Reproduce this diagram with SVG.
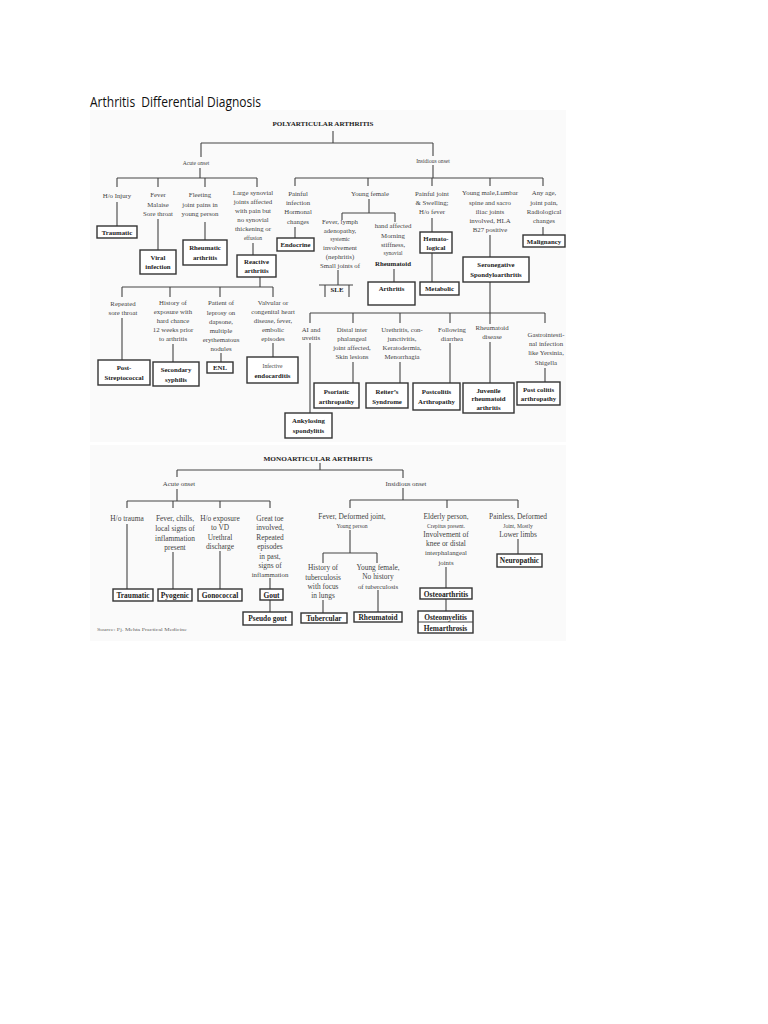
<svg xmlns="http://www.w3.org/2000/svg" width="768" height="1024" viewBox="0 0 768 1024">
<style>
.t{font-family:"Liberation Serif","Times New Roman",serif;font-size:6.8px;fill:#444;text-anchor:middle}
.s{font-size:5.6px}
.m{font-size:7.4px}
.b{font-weight:bold;fill:#222}
.h{font-family:"Liberation Serif","Times New Roman",serif;font-size:7px;font-weight:bold;fill:#222;text-anchor:middle}
.bx{fill:#fff;stroke:#333;stroke-width:1.4}
.ln{fill:none;stroke:#444;stroke-width:1.1}
</style>
<rect x="0" y="0" width="768" height="1024" fill="#fff"/>
<rect x="90" y="110" width="476" height="332" fill="#fafafa"/>
<rect x="90" y="445" width="476" height="196" fill="#fafafa"/>
<text x="90" y="107" font-family="Open Sans, Liberation Sans, sans-serif" font-size="14" fill="#111" textLength="171" lengthAdjust="spacingAndGlyphs" xml:space="preserve">Arthritis  Differential Diagnosis</text>

<g id="connectors" class="ln">
<path d="M333,131V143M201,143H433M201,143V157M433,143V156"/>
<path d="M200,168V178M117,178H257M117,178V187M158,178V187M205,178V187M257,178V187"/>
<path d="M117,202V226M158,219V250M205,222V240M253,243V255"/>
<path d="M260,277V287M122,287H273M122,287V297M170,287V297M220,287V297M273,287V297"/>
<path d="M122,318V360M173,344V362M221,353V362M273,343V357"/>
<path d="M433,165V178M295,178H543M295,178V186M368,178V186M432,178V186M490,178V186M543,178V186"/>
<path d="M295,227V238M369,199V213M342,213H395M342,213V220M395,213V222"/>
<path d="M338,270V285M394,269V282M432,218V232M432,253V282M490,235V257M543,227V235"/>
<path d="M490,282V324M310,313H545M310,313V323M353,313V323M400,313V323M450,313V323M545,313V323"/>
<path d="M310,343V413M353,362V383M400,362V383M450,343V383M490,342V383M545,368V382"/>
<path d="M320,463V470M177,470H403M177,470V477M403,470V478"/>
<path d="M177,489V501M127,501H270M127,501V508M173,501V508M220,501V508M270,501V508"/>
<path d="M127,524V589M173,552V589M220,551V589M270,578V589M270,600V612"/>
<path d="M403,488V500M350,500H518M350,500V508M447,500V508M518,500V508"/>
<path d="M350,530V553M323,553H377M323,553V563M377,553V563"/>
<path d="M323,600V613M378,590V612M446,567V588M446,599V611M518,539V554"/>
</g>

<g id="poly-root"><text class="h" x="323" y="126" textLength="101" lengthAdjust="spacingAndGlyphs">POLYARTICULAR ARTHRITIS</text></g>
<g id="poly-acute"><text class="t s" x="196" y="165">Acute onset</text></g>
<g id="poly-insidious"><text class="t s" x="433" y="163">Insidious onset</text></g>

<g id="p-injury"><text class="t" x="117" y="198">H/o Injury</text></g>
<g id="p-fever"><text class="t" x="158" y="197">Fever</text><text class="t" x="158" y="206.5">Malaise</text><text class="t" x="158" y="215.5">Sore throat</text></g>
<g id="p-fleeting"><text class="t" x="200" y="197">Fleeting</text><text class="t" x="200" y="206.5">joint pains in</text><text class="t" x="200" y="215.5">young person</text></g>
<g id="p-large"><text class="t" x="253" y="195">Large synovial</text><text class="t" x="253" y="204">joints affected</text><text class="t" x="253" y="213">with pain but</text><text class="t" x="253" y="222">no synovial</text><text class="t" x="253" y="231">thickening or</text><text class="t s" x="253" y="240">effusion</text></g>

<g id="p-traumatic"><rect class="bx" x="97" y="226" width="40" height="12"/><text class="t b" x="117" y="234.5">Traumatic</text></g>
<g id="p-viral"><rect class="bx" x="140" y="250" width="36" height="24"/><text class="t b" x="158" y="259.5">Viral</text><text class="t b" x="158" y="268.5">infection</text></g>
<g id="p-rheumatic"><rect class="bx" x="183" y="240" width="44" height="25"/><text class="t b" x="205" y="250">Rheumatic</text><text class="t b" x="205" y="259.5">arthritis</text></g>
<g id="p-reactive"><rect class="bx" x="237" y="255" width="39" height="22"/><text class="t b" x="256.5" y="264">Reactive</text><text class="t b" x="256.5" y="273">arthritis</text></g>

<g id="p-repeated"><text class="t" x="123" y="306">Repeated</text><text class="t" x="123" y="315">sore throat</text></g>
<g id="p-history"><text class="t" x="173" y="305">History of</text><text class="t" x="173" y="314">exposure with</text><text class="t" x="173" y="323">hard chance</text><text class="t" x="173" y="332">12 weeks prior</text><text class="t" x="173" y="341">to arthritis</text></g>
<g id="p-patient"><text class="t" x="221" y="305">Patient of</text><text class="t" x="221" y="314.5">leprosy on</text><text class="t" x="221" y="324">dapsone,</text><text class="t" x="221" y="333">multiple</text><text class="t" x="221" y="342">erythematous</text><text class="t" x="221" y="351">nodules</text></g>
<g id="p-valvular"><text class="t" x="273" y="305">Valvular or</text><text class="t" x="273" y="314">congenital heart</text><text class="t" x="273" y="323">disease, fever,</text><text class="t" x="273" y="332">embolic</text><text class="t" x="273" y="341">episodes</text></g>

<g id="p-poststrep"><rect class="bx" x="98" y="360" width="52" height="25"/><text class="t b" x="124" y="370">Post-</text><text class="t b" x="124" y="380">Streptococcal</text></g>
<g id="p-syphilis"><rect class="bx" x="153" y="362" width="46" height="24"/><text class="t b" x="176" y="372">Secondary</text><text class="t b" x="176" y="381.5">syphilis</text></g>
<g id="p-enl"><rect class="bx" x="207" y="362" width="26" height="11"/><text class="t b" x="220" y="370">ENL</text></g>
<g id="p-endocarditis"><rect class="bx" x="247" y="357" width="51" height="26"/><text class="t s" x="272.5" y="368">Infective</text><text class="t b" x="272.5" y="378">endocarditis</text></g>

<g id="p-painful-inf"><text class="t" x="298" y="196">Painful</text><text class="t" x="298" y="205">infection</text><text class="t" x="298" y="214">Hormonal</text><text class="t" x="298" y="224">changes</text></g>
<g id="p-young-female"><text class="t" x="370" y="196">Young female</text></g>
<g id="p-painful-joint"><text class="t" x="432" y="196">Painful joint</text><text class="t" x="432" y="205">&amp; Swelling;</text><text class="t" x="432" y="214">H/o fever</text></g>
<g id="p-young-male"><text class="t" x="490" y="195">Young male,Lumbar</text><text class="t" x="490" y="205">spine and sacro</text><text class="t" x="490" y="214">iliac joints</text><text class="t" x="490" y="223">involved, HLA</text><text class="t" x="490" y="232">B27 positive</text></g>
<g id="p-any-age"><text class="t" x="544" y="195">Any age,</text><text class="t" x="544" y="205">joint pain,</text><text class="t" x="544" y="214">Radiological</text><text class="t" x="544" y="223">changes</text></g>

<g id="p-endocrine"><rect class="bx" x="277" y="238" width="37" height="13"/><text class="t b" x="295.5" y="247">Endocrine</text></g>
<g id="p-fever-lymph"><text class="t" x="340" y="224">Fever, lymph</text><text class="t" x="340" y="233">adenopathy,</text><text class="t s" x="340" y="241">systemic</text><text class="t" x="340" y="250">involvement</text><text class="t" x="340" y="259">(nephritis)</text><text class="t" x="340" y="268">Small joints of</text></g>
<g id="p-hand"><text class="t" x="393" y="228">hand affected</text><text class="t" x="393" y="238">Morning</text><text class="t" x="393" y="247">stiffness,</text><text class="t s" x="393" y="255">synovial</text><text class="t b" x="393" y="266">Rheumatoid</text></g>
<g id="p-sle"><path class="ln" d="M319,285H353M325,285V297M349,285V297"/><text class="t b" x="337" y="292">SLE</text></g>
<g id="p-arthritis"><rect class="bx" x="368" y="282" width="47" height="23"/><text class="t b" x="391.5" y="290.5">Arthritis</text></g>
<g id="p-hemato"><rect class="bx" x="420" y="232" width="32" height="21"/><text class="t b" x="436" y="240.5">Hemato-</text><text class="t b" x="436" y="249.5">logical</text></g>
<g id="p-metabolic"><rect class="bx" x="420" y="282" width="39" height="13"/><text class="t b" x="439.5" y="291">Metabolic</text></g>
<g id="p-seroneg"><rect class="bx" x="463" y="257" width="66" height="25"/><text class="t b" x="496" y="267">Seronegative</text><text class="t b" x="496" y="276.5">Spondyloarthritis</text></g>
<g id="p-malignancy"><rect class="bx" x="523" y="235" width="42" height="12"/><text class="t b" x="544" y="243.5">Malignancy</text></g>

<g id="p-ai"><text class="t" x="311" y="332">AI and</text><text class="t" x="311" y="340">uveitis</text></g>
<g id="p-distal"><text class="t" x="352" y="332">Distal inter</text><text class="t" x="352" y="340.5">phalangeal</text><text class="t" x="352" y="350">joint affected,</text><text class="t" x="352" y="359">Skin lesions</text></g>
<g id="p-urethritis"><text class="t" x="402" y="332">Urethritis, con-</text><text class="t" x="402" y="340.5">junctivitis,</text><text class="t" x="402" y="350">Keratodermia,</text><text class="t" x="402" y="359">Menorrhagia</text></g>
<g id="p-following"><text class="t" x="452" y="332">Following</text><text class="t" x="452" y="340.5">diarrhea</text></g>
<g id="p-rheum-disease"><text class="t" x="492" y="330">Rheumatoid</text><text class="t" x="492" y="339">disease</text></g>
<g id="p-gastro"><text class="t" x="546" y="337">Gastrointesti-</text><text class="t" x="546" y="346">nal infection</text><text class="t" x="546" y="355">like Yersinia,</text><text class="t" x="546" y="365">Shigella</text></g>

<g id="p-ankylosing"><rect class="bx" x="285" y="413" width="47" height="25"/><text class="t b" x="308.5" y="423">Ankylosing</text><text class="t b" x="308.5" y="433" font-size="5.8">spondylitis</text></g>
<g id="p-psoriatic"><rect class="bx" x="314" y="383" width="45" height="25"/><text class="t b" x="336.5" y="394">Psoriatic</text><text class="t b" x="336.5" y="403.5">arthropathy</text></g>
<g id="p-reiter"><rect class="bx" x="366" y="383" width="42" height="25"/><text class="t b" x="387" y="394">Reiter’s</text><text class="t b" x="387" y="403.5">Syndrome</text></g>
<g id="p-postcolitis"><rect class="bx" x="413" y="383" width="47" height="27"/><text class="t b" x="436.5" y="394">Postcolitis</text><text class="t b" x="436.5" y="404">Arthropathy</text></g>
<g id="p-juvenile"><rect class="bx" x="463" y="383" width="51" height="30"/><text class="t b" x="488.5" y="392.5">Juvenile</text><text class="t b" x="488.5" y="401" font-size="5.8">rheumatoid</text><text class="t b" x="488.5" y="410">arthritis</text></g>
<g id="p-post-colitis"><rect class="bx" x="517" y="382" width="43" height="23"/><text class="t b" x="538.5" y="392">Post colitis</text><text class="t b" x="538.5" y="401" font-size="6">arthropathy</text></g>

<g id="mono-root"><text class="h" x="318" y="461" textLength="109" lengthAdjust="spacingAndGlyphs">MONOARTICULAR ARTHRITIS</text></g>
<g id="mono-acute"><text class="t" x="179" y="486">Acute onset</text></g>
<g id="mono-insidious"><text class="t" x="406" y="486">Insidious onset</text></g>

<g id="m-trauma"><text class="t m" x="127" y="521">H/o trauma</text></g>
<g id="m-fever"><text class="t m" x="175" y="521">Fever, chills,</text><text class="t m" x="175" y="531">local signs of</text><text class="t m" x="175" y="541">inflammation</text><text class="t m" x="175" y="550">present</text></g>
<g id="m-exposure"><text class="t m" x="220" y="521">H/o exposure</text><text class="t m" x="220" y="530">to VD</text><text class="t m" x="220" y="539.5">Urethral</text><text class="t m" x="220" y="549">discharge</text></g>
<g id="m-greattoe"><text class="t m" x="270" y="521">Great toe</text><text class="t m" x="270" y="530">involved,</text><text class="t m" x="270" y="539.5">Repeated</text><text class="t m" x="270" y="549">episodes</text><text class="t m" x="270" y="559">in past,</text><text class="t m" x="270" y="568">signs of</text><text class="t" x="270" y="576.5">inflammation</text></g>

<g id="m-traumatic"><rect class="bx" x="113" y="589" width="40" height="12"/><text class="t m b" x="133" y="598">Traumatic</text></g>
<g id="m-pyogenic"><rect class="bx" x="158" y="589" width="34" height="12"/><text class="t m b" x="175" y="598">Pyogenic</text></g>
<g id="m-gonococcal"><rect class="bx" x="198" y="589" width="44" height="12"/><text class="t m b" x="220" y="598">Gonococcal</text></g>
<g id="m-gout"><rect class="bx" x="260" y="589" width="23" height="11"/><text class="t m b" x="271.5" y="597.5">Gout</text></g>
<g id="m-pseudogout"><rect class="bx" x="243" y="612" width="49" height="13"/><text class="t m b" x="267.5" y="621">Pseudo gout</text></g>
<g id="m-source"><text x="97" y="631" font-family="Liberation Serif, serif" font-size="5" fill="#666" textLength="90" lengthAdjust="spacingAndGlyphs">Source: Pj. Mehta Practical Medicine</text></g>

<g id="m-fever-deformed"><text class="t m" x="352" y="519">Fever, Deformed joint,</text><text class="t s" x="352" y="528">Young person</text></g>
<g id="m-elderly"><text class="t m" x="446" y="519">Elderly person,</text><text class="t s" x="446" y="528">Crepitus present.</text><text class="t m" x="446" y="537">Involvement of</text><text class="t m" x="446" y="546">knee or distal</text><text class="t" x="446" y="555">interphalangeal</text><text class="t" x="446" y="564.5">joints</text></g>
<g id="m-painless"><text class="t m" x="518" y="519">Painless, Deformed</text><text class="t s" x="518" y="528">Joint, Mostly</text><text class="t m" x="518" y="537">Lower limbs</text></g>
<g id="m-history"><text class="t m" x="323" y="570">History of</text><text class="t m" x="323" y="580">tuberculosis</text><text class="t m" x="323" y="589">with focus</text><text class="t m" x="323" y="598">in lungs</text></g>
<g id="m-young-female"><text class="t m" x="378" y="570">Young female,</text><text class="t m" x="378" y="579">No history</text><text class="t" x="378" y="589">of tuberculosis</text></g>

<g id="m-tubercular"><rect class="bx" x="301" y="613" width="46" height="10"/><text class="t m b" x="324" y="621">Tubercular</text></g>
<g id="m-rheumatoid"><rect class="bx" x="354" y="612" width="48" height="10"/><text class="t m b" x="378" y="620">Rheumatoid</text></g>
<g id="m-osteoarthritis"><rect class="bx" x="420" y="588" width="52" height="11"/><text class="t m b" x="446" y="596.5">Osteoarthritis</text></g>
<g id="m-osteomyelitis"><rect class="bx" x="418" y="611" width="55" height="22"/><path class="ln" d="M418,622H473"/><text class="t m b" x="445.5" y="619.5">Osteomyelitis</text><text class="t m b" x="445.5" y="630.5">Hemarthrosis</text></g>
<g id="m-neuropathic"><rect class="bx" x="497" y="554" width="45" height="13"/><text class="t m b" x="519.5" y="563">Neuropathic</text></g>
</svg>
